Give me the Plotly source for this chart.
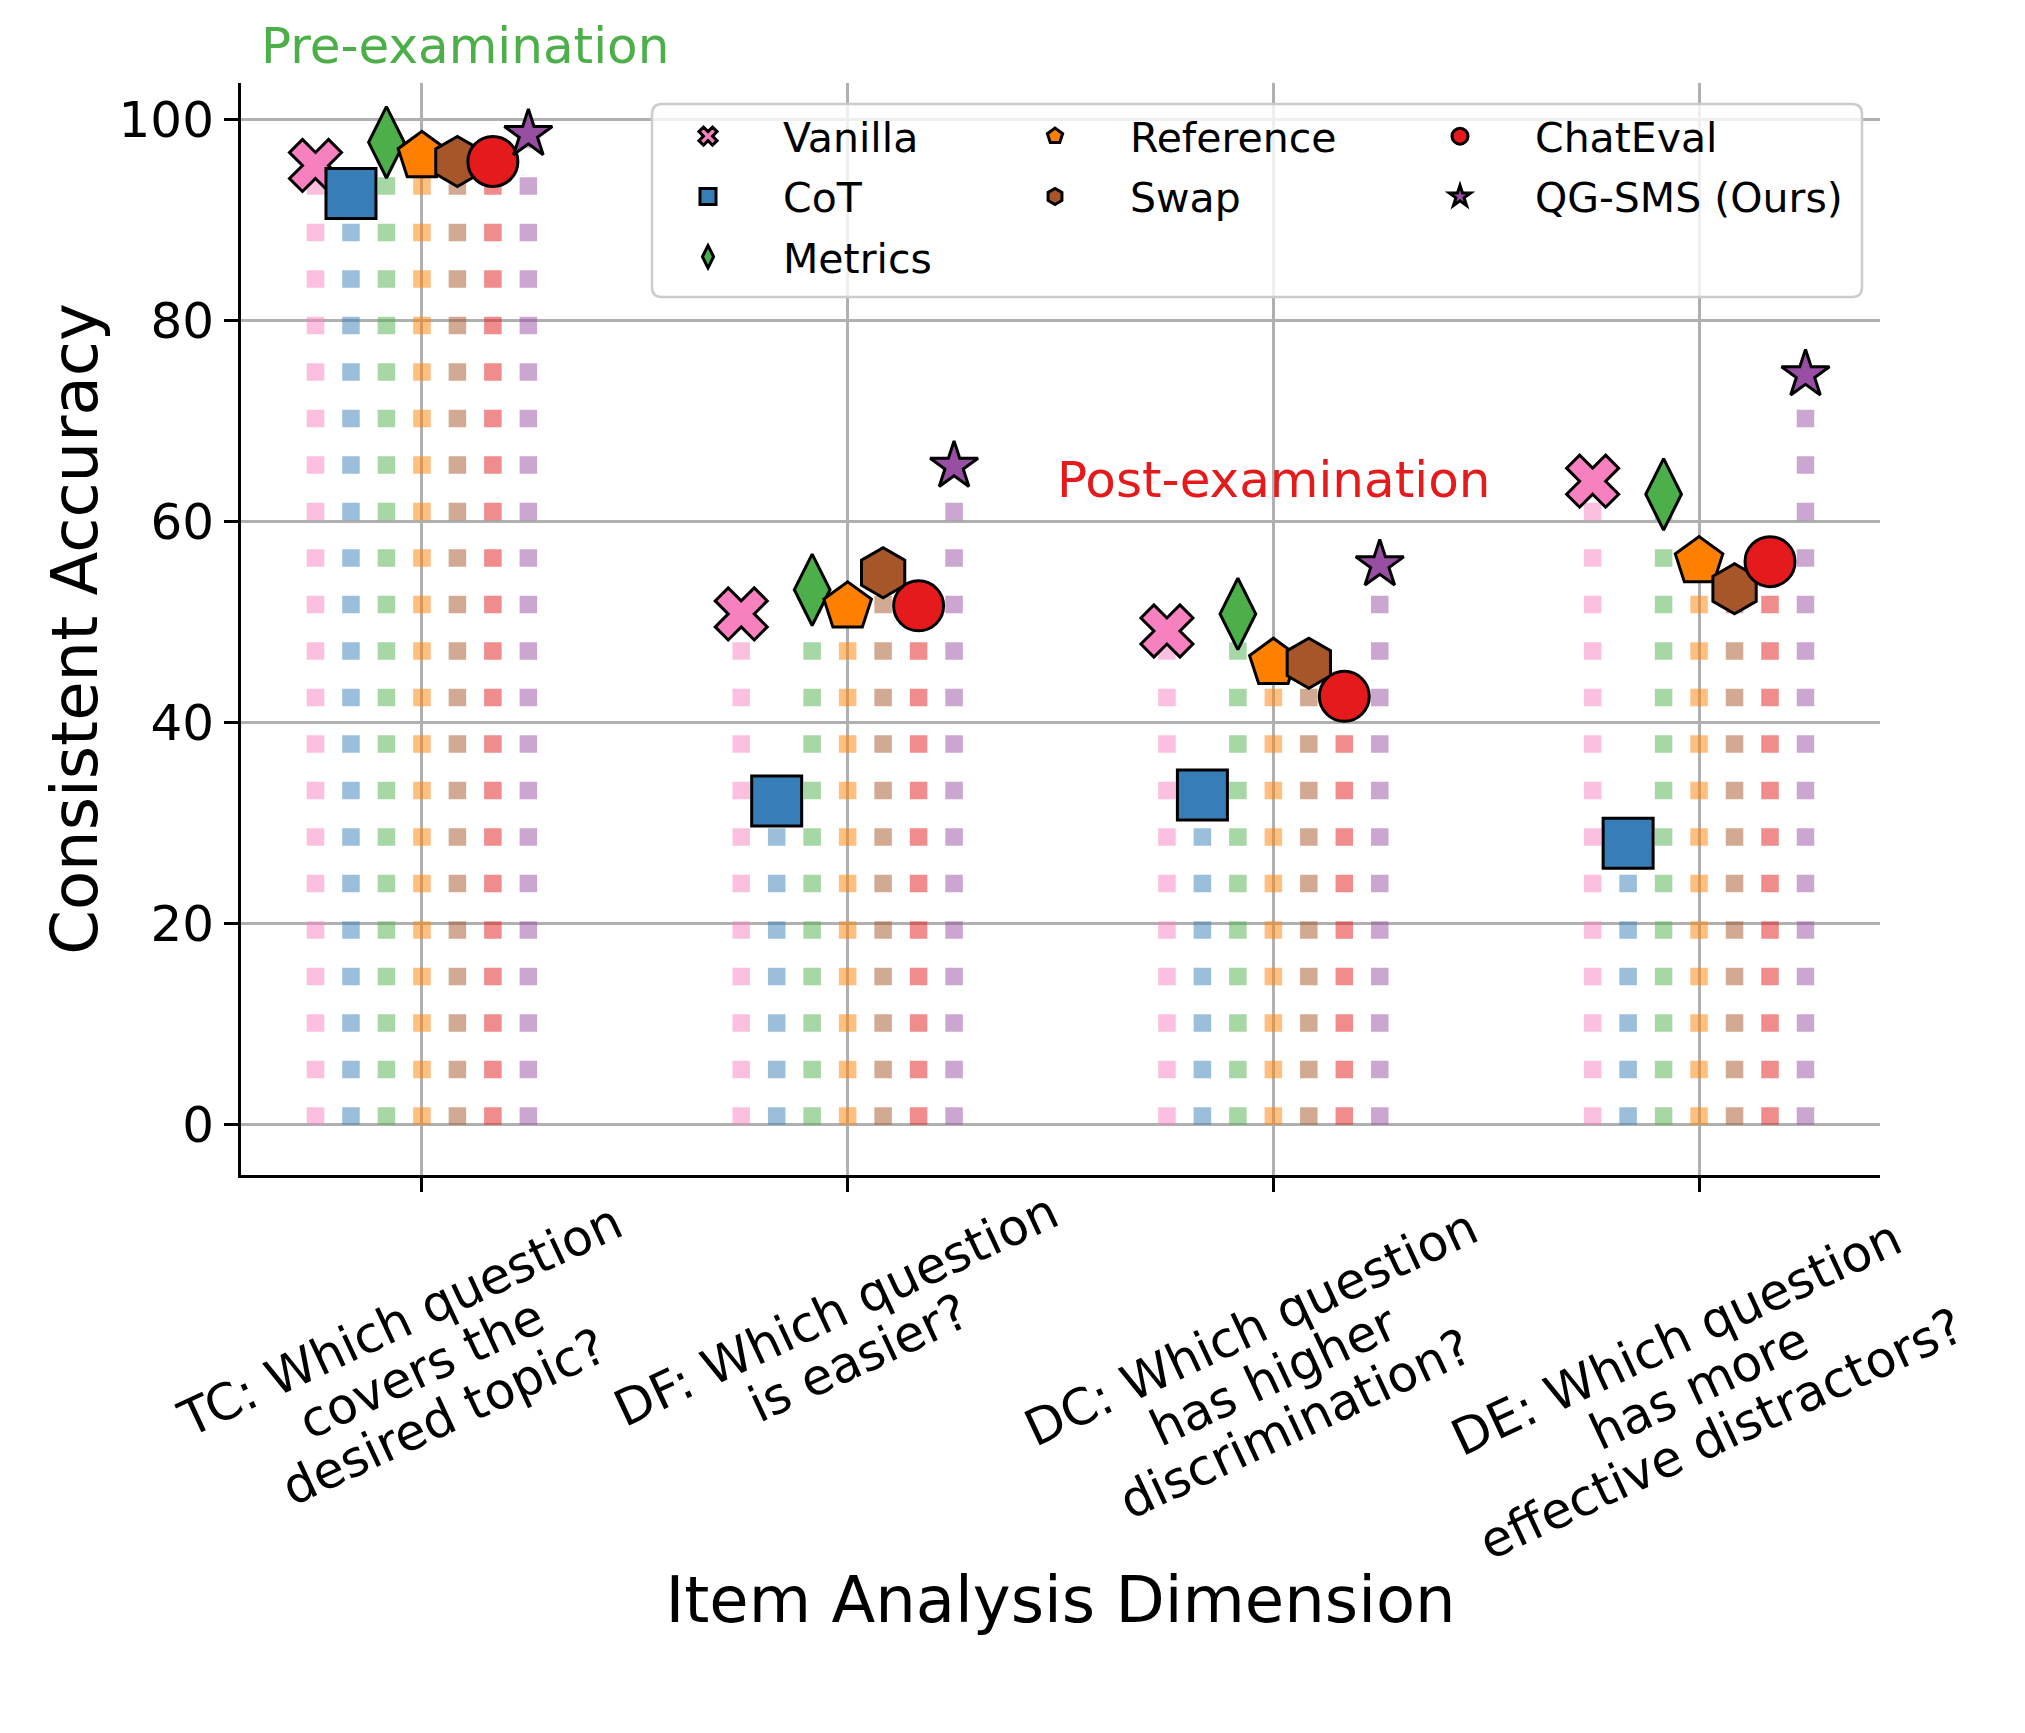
import math
import plotly.graph_objects as go

# ---------------- data ----------------
categories = ["TC", "DF", "DC", "DE"]
category_labels = [
    "TC: Which question\ncovers the\ndesired topic?",
    "DF: Which question\nis easier?",
    "DC: Which question\nhas higher\ndiscrimination?",
    "DE: Which question\nhas more\neffective distractors?",
]
methods = ["Vanilla", "CoT", "Metrics", "Reference", "Swap", "ChatEval", "QG-SMS (Ours)"]
vanilla = [95.4, 50.8, 49.1, 64.0]
cot = [92.6, 32.2, 32.8, 28.0]
metrics = [97.7, 53.2, 50.8, 62.7]
reference = [96.3, 51.5, 45.9, 56.0]
swap = [95.8, 54.9, 45.9, 53.3]
chateval = [95.8, 51.6, 42.6, 56.0]
qgsms = [98.5, 65.5, 55.7, 74.6]
y_ticks = [0, 20, 40, 60, 80, 100]

series = [vanilla, cot, metrics, reference, swap, chateval, qgsms]

# ---------------- styles ----------------
colors = ["#f781bf", "#377eb8", "#4daf4a", "#ff7f00", "#a65628", "#e41a1c", "#984ea3"]
symbols = ["x", "square", "diamond-tall", "pentagon", "hexagon", "circle", "star"]
sizes = [46, 50, 51, 50, 50, 50, 36]
legend_of = ["legend", "legend", "legend", "legend2", "legend2", "legend3", "legend3"]
FONT = "DejaVu Sans"

# figure geometry (px)
W, H = 2025, 1733
ML, MR, MT, MB = 241, 145, 83, 558
PW, PH = W - ML - MR, H - MT - MB


def px_x(px):
    return (px - ML) / PW


def px_y(py):
    return (H - MB - py) / PH


def rgba(hex_color, alpha):
    h = hex_color.lstrip("#")
    r, g, b = int(h[0:2], 16), int(h[2:4], 16), int(h[4:6], 16)
    return f"rgba({r},{g},{b},{alpha})"


fig = go.Figure()
n = len(methods)
for i, (name, vals) in enumerate(zip(methods, series)):
    off = (i - (n - 1) / 2) / 12.0
    xs = [j + off for j in range(len(categories))]
    for x, v in zip(xs, vals):
        fig.add_trace(go.Scatter(
            x=[x, x], y=[0, v], mode="lines",
            line=dict(color=rgba(colors[i], 0.5), width=17.5, dash="17.5px,29px"),
            showlegend=False, hoverinfo="skip",
        ))
    fig.add_trace(go.Scatter(
        x=xs, y=vals, mode="markers", name=name,
        marker=dict(symbol=symbols[i], size=sizes[i], color=colors[i],
                    line=dict(color="black", width=3)),
        legend=legend_of[i], legendgroup=name,
    ))

# ---------------- rotated, centre-aligned category labels ----------------
ANG = 25.0
LINE_SP = 53.0  # baseline-to-baseline distance, px
label_centre_px = [1369, 1334, 1376, 1386]  # vertical centre of each rotated label block
annotations = []
for j, lab in enumerate(category_labels):
    lines = lab.split("\n")
    m = len(lines)
    for k, line in enumerate(lines):
        d = (k - (m - 1) / 2) * LINE_SP
        annotations.append(dict(
            x=j, xref="x", y=px_y(label_centre_px[j]), yref="paper", text=line,
            showarrow=False, textangle=-ANG, xanchor="center", yanchor="middle",
            xshift=d * math.sin(math.radians(ANG)), yshift=-d * math.cos(math.radians(ANG)),
            font=dict(family=FONT, size=50, color="black"),
        ))
annotations.append(dict(
    x=0.1, xref="x", y=(107.3 + 5) / 108.6, yref="paper", text="Pre-examination",
    showarrow=False, xanchor="center", yanchor="middle",
    font=dict(family=FONT, size=50, color="#4daf4a"),
))
annotations.append(dict(
    x=2.0, xref="x", y=64.1, yref="y", text="Post-examination", showarrow=False,
    xanchor="center", yanchor="middle", font=dict(family=FONT, size=50, color="#e41a1c"),
))

# ---------------- legend frame (rounded) ----------------
bx0, bx1, by0, by1 = px_x(652), px_x(1862), px_y(297), px_y(104)
rx, ry = 10 / PW, 10 / PH
frame_path = (
    f"M {bx0 + rx},{by0} L {bx1 - rx},{by0} Q {bx1},{by0} {bx1},{by0 + ry} "
    f"L {bx1},{by1 - ry} Q {bx1},{by1} {bx1 - rx},{by1} "
    f"L {bx0 + rx},{by1} Q {bx0},{by1} {bx0},{by1 - ry} "
    f"L {bx0},{by0 + ry} Q {bx0},{by0} {bx0 + rx},{by0} Z"
)
shapes = [dict(type="path", path=frame_path, xref="paper", yref="paper",
               fillcolor="rgba(255,255,255,0.8)", line=dict(color="#cccccc", width=2.5),
               layer="above")]

legend_common = dict(
    orientation="v", yanchor="top", xanchor="left", y=px_y(103),
    font=dict(family=FONT, size=41, color="black"),
    bgcolor="rgba(0,0,0,0)", borderwidth=0,
    itemwidth=140, itemsizing="trace", tracegroupgap=4, traceorder="grouped",
)

fig.update_layout(
    width=W, height=H,
    margin=dict(l=ML, r=MR, t=MT, b=MB, autoexpand=False),
    paper_bgcolor="white", plot_bgcolor="white",
    font=dict(family=FONT, color="black"),
    annotations=annotations,
    shapes=shapes,
    legend=dict(x=px_x(633), **legend_common),
    legend2=dict(x=px_x(980), **legend_common),
    legend3=dict(x=px_x(1385), **legend_common),
    xaxis=dict(
        range=[-0.425, 3.425], tickvals=list(range(len(categories))),
        showticklabels=False, ticks="outside", ticklen=14, tickwidth=3, tickcolor="black",
        showline=True, linecolor="black", linewidth=3,
        showgrid=True, gridcolor="#b0b0b0", gridwidth=2.5, zeroline=False,
        title=dict(text="Item Analysis Dimension", font=dict(family=FONT, size=64), standoff=387),
        automargin=False,
    ),
    yaxis=dict(
        range=[-5, 103.6], tickvals=y_ticks,
        tickfont=dict(family=FONT, size=50, color="black"),
        ticks="outside", ticklen=14, tickwidth=3, tickcolor="black",
        showline=True, linecolor="black", linewidth=3,
        showgrid=True, gridcolor="#b0b0b0", gridwidth=2.5, zeroline=False,
        title=dict(text="Consistent Accuracy", font=dict(family=FONT, size=64), standoff=1),
        automargin=False,
    ),
)

fig.write_html(
    "out.html",
    config={"displayModeBar": False},
    post_script="document.body.style.margin='0px';document.body.style.overflow='hidden';",
)
